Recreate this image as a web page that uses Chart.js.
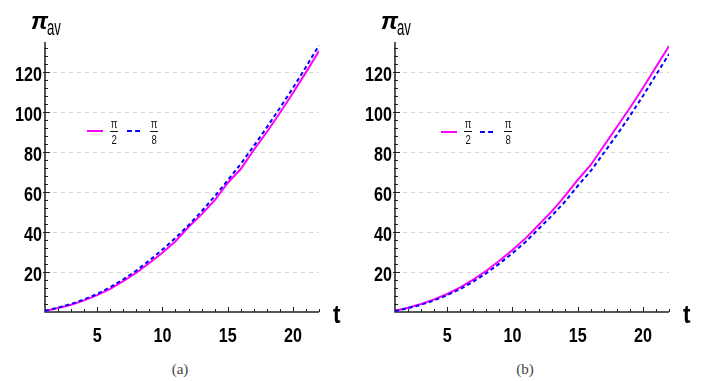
<!DOCTYPE html>
<html><head><meta charset="utf-8">
<script src="https://cdn.jsdelivr.net/npm/chart.js@4.4.0/dist/chart.umd.min.js"></script>
<style>
html,body{margin:0;padding:0;background:#fff;}
#wrap{position:relative;width:708px;height:381px;overflow:hidden;background:#fff;}
canvas{position:absolute;top:0;}
.abs{position:absolute;white-space:nowrap;color:#000;line-height:1;font-family:"Liberation Sans",Arial,sans-serif;transform-origin:0 0;}
.frac{position:absolute;display:flex;flex-direction:column;align-items:center;font-family:"Liberation Sans",Arial,sans-serif;font-size:12px;line-height:11px;color:#111;transform-origin:0 0;transform:scaleX(0.8);}
.frac .num{border-bottom:1px solid #111;padding:0 1px 1px 1px;}
.frac .den{padding-top:3px;}
.key{position:absolute;height:0;}
.cap{position:absolute;font-family:"Liberation Serif","DejaVu Serif",serif;font-size:15px;line-height:1;color:#444;width:40px;text-align:center;}
</style></head>
<body><div id="wrap">
<canvas id="ca" width="340" height="350" style="left:0px"></canvas>
<canvas id="cb" width="340" height="350" style="left:350px"></canvas>
</div>
<script>
// ---- data ----
const tValues = [1,2,3,4,5,6,7,8,9,10,11,12,13,14,15,16,17,18,19,20,21,22];
// panel (a)
const piHalfA   = [0.5,2.0,3.6,5.8,8.4,11.6,15.4,19.6,24.5,29.6,35.4,42.5,48.8,55.8,64.5,71.5,81.0,90.0,99.5,109.5,119.8,130.5];
const piEighthA = [0.6,2.2,4.0,6.3,9.0,12.4,16.3,20.7,25.8,31.2,37.0,43.4,50.3,57.8,65.8,74.0,83.0,92.3,102.0,112.0,122.5,133.3];
// panel (b)
const piHalfB   = [0.6,2.1,4.0,6.3,9.0,12.3,16.2,20.6,25.6,31.0,36.8,43.5,50.2,57.8,66.0,73.5,83.0,92.5,102.0,112.0,122.5,133.0];
const piEighthB = [0.5,1.9,3.6,5.8,8.4,11.5,15.2,19.4,24.2,29.4,35.0,41.5,48.0,55.0,63.0,70.5,79.5,88.5,98.0,108.0,118.5,129.0];
const yTickValues = [20,40,60,80,100,120];
const xTickValues = [5,10,15,20];
const seriesNumerators = ['π','π'];
const seriesDenominators = ['2','8'];
const panelCaptions = ['(a)','(b)'];
const yAxisTitleMain = 'π';
const yAxisTitleSub = 'av';
const xAxisTitle = 't';

const MAGENTA = '#ff00ff', BLUE = '#0000ff';
const LABEL_FONT = 'bold 21px "Liberation Sans", Arial, sans-serif';
const SQUEEZE = 0.77;

const axesPlugin = {
  id: 'frameAxes',
  beforeDatasetsDraw(chart) {
    const {ctx, scales:{x, y}} = chart;
    const x0 = x.getPixelForValue(x.min), x1 = x.getPixelForValue(x.max);
    const y0 = y.getPixelForValue(y.min), y1 = y.getPixelForValue(y.max);
    ctx.save();
    ctx.strokeStyle = '#222';
    ctx.lineWidth = 1.5;
    ctx.setLineDash([]);
    ctx.beginPath();
    ctx.moveTo(x0, y1); ctx.lineTo(x0, y0); ctx.lineTo(x1, y0);
    ctx.stroke();
    ctx.lineWidth = 1;
    ctx.beginPath();
    for (const t of tValues) {
      const px = Math.round(x.getPixelForValue(t)) + 0.5;
      const len = xTickValues.includes(t) ? 5 : 3;
      ctx.moveTo(px, y0); ctx.lineTo(px, y0 - len);
    }
    for (let v = 4; v <= y.max; v += 4) {
      const py = Math.round(y.getPixelForValue(v)) + 0.5;
      ctx.moveTo(x0 - 1, py); ctx.lineTo(x0 + 3, py);
    }
    for (const v of yTickValues) {
      const py = Math.round(y.getPixelForValue(v)) + 0.5;
      ctx.moveTo(x0 - 2, py); ctx.lineTo(x0 + 5, py);
    }
    ctx.stroke();
    ctx.restore();
  },
  afterDraw(chart) {
    const {ctx, scales:{x, y}} = chart;
    const x0 = x.getPixelForValue(x.min);
    const y0 = y.getPixelForValue(y.min);
    ctx.save();
    ctx.fillStyle = '#000';
    ctx.font = LABEL_FONT;
    ctx.textBaseline = 'alphabetic';
    ctx.textAlign = 'right';
    for (const v of yTickValues) {
      ctx.save();
      ctx.translate(x0 - 3, y.getPixelForValue(v) + 9);
      ctx.scale(SQUEEZE, 1);
      ctx.fillText(String(v), 0, 0);
      ctx.restore();
    }
    ctx.textAlign = 'center';
    for (const v of xTickValues) {
      ctx.save();
      ctx.translate(x.getPixelForValue(v), y0 + 30);
      ctx.scale(SQUEEZE, 1);
      ctx.fillText(String(v), 0, 0);
      ctx.restore();
    }
    ctx.restore();
  }
};

function makeChart(id, halfData, eighthData) {
  return new Chart(document.getElementById(id), {
    type: 'line',
    data: {
      datasets: [
        { data: tValues.map((t,i)=>({x:t, y:halfData[i]})), borderColor: MAGENTA, borderWidth: 2,
          pointRadius: 0, tension: 0, fill: false, order: 2 },
        { data: tValues.map((t,i)=>({x:t, y:eighthData[i]})), borderColor: BLUE, borderWidth: 2,
          borderDash: [4,3], pointRadius: 0, tension: 0, fill: false, order: 1 }
      ]
    },
    options: {
      responsive: false, animation: false, devicePixelRatio: 1,
      layout: { padding: { top: 42, right: 21, left: 0, bottom: 0 } },
      plugins: { legend: { display: false }, tooltip: { enabled: false } },
      scales: {
        x: {
          type: 'linear', min: 1, max: 22,
          afterBuildTicks: s => { s.ticks = xTickValues.map(v => ({value: v})); },
          afterFit: s => { s.height = 38; },
          grid: { display: false, drawTicks: false },
          border: { display: false },
          ticks: { display: false }
        },
        y: {
          type: 'linear', min: 0, max: 135,
          afterBuildTicks: s => { s.ticks = yTickValues.map(v => ({value: v})); },
          afterFit: s => { s.width = 45; },
          grid: { color: '#d4d4d4', lineWidth: 1, drawTicks: false },
          border: { display: false, dash: [4,4] },
          ticks: { display: false }
        }
      }
    },
    plugins: [axesPlugin]
  });
}

makeChart('ca', piHalfA, piEighthA);
makeChart('cb', piHalfB, piEighthB);

// ---- text overlays ----
const wrap = document.getElementById('wrap');
function addDiv(cls, html, style) {
  const d = document.createElement('div');
  d.className = cls; d.innerHTML = html;
  Object.assign(d.style, style); wrap.appendChild(d); return d;
}
const panels = [
  { off: 0, keyA: [87, 131], fracA: 110, keyB: [127, 131], fracB: 150, cap: 160 },
  { off: 350, keyA: [441, 132], fracA: 464, keyB: [480, 132], fracB: 504, cap: 505 }
];
panels.forEach((p, i) => {
  addDiv('abs', yAxisTitleMain, { left: (p.off + 31) + 'px', top: '8.5px',
    fontStyle: 'italic', fontWeight: 'bold', fontSize: '24px' });
  addDiv('abs', yAxisTitleSub, { left: (p.off + 47) + 'px', top: '16.5px', fontSize: '22px', transform: 'scaleX(0.6)' });
  addDiv('abs', xAxisTitle, { left: (p.off + 333) + 'px', top: '302px', fontSize: '25px', fontWeight: 'bold', transform: 'scaleX(0.9)' });
  addDiv('key', '', { left: p.keyA[0] + 'px', top: (p.keyA[1] - 1) + 'px', width: '16px', borderTop: '2.5px solid ' + MAGENTA });
  addDiv('key', '', { left: p.keyB[0] + 'px', top: (p.keyB[1] - 1) + 'px', width: '13px', borderTop: '2.5px dashed ' + BLUE });
  addDiv('frac', '<span class="num">' + seriesNumerators[0] + '</span><span class="den">' + seriesDenominators[0] + '</span>',
    { left: p.fracA + 'px', top: '119px' });
  addDiv('frac', '<span class="num">' + seriesNumerators[1] + '</span><span class="den">' + seriesDenominators[1] + '</span>',
    { left: p.fracB + 'px', top: '119px' });
  addDiv('cap', panelCaptions[i], { left: p.cap + 'px', top: '361.5px' });
});
</script>
</body></html>
